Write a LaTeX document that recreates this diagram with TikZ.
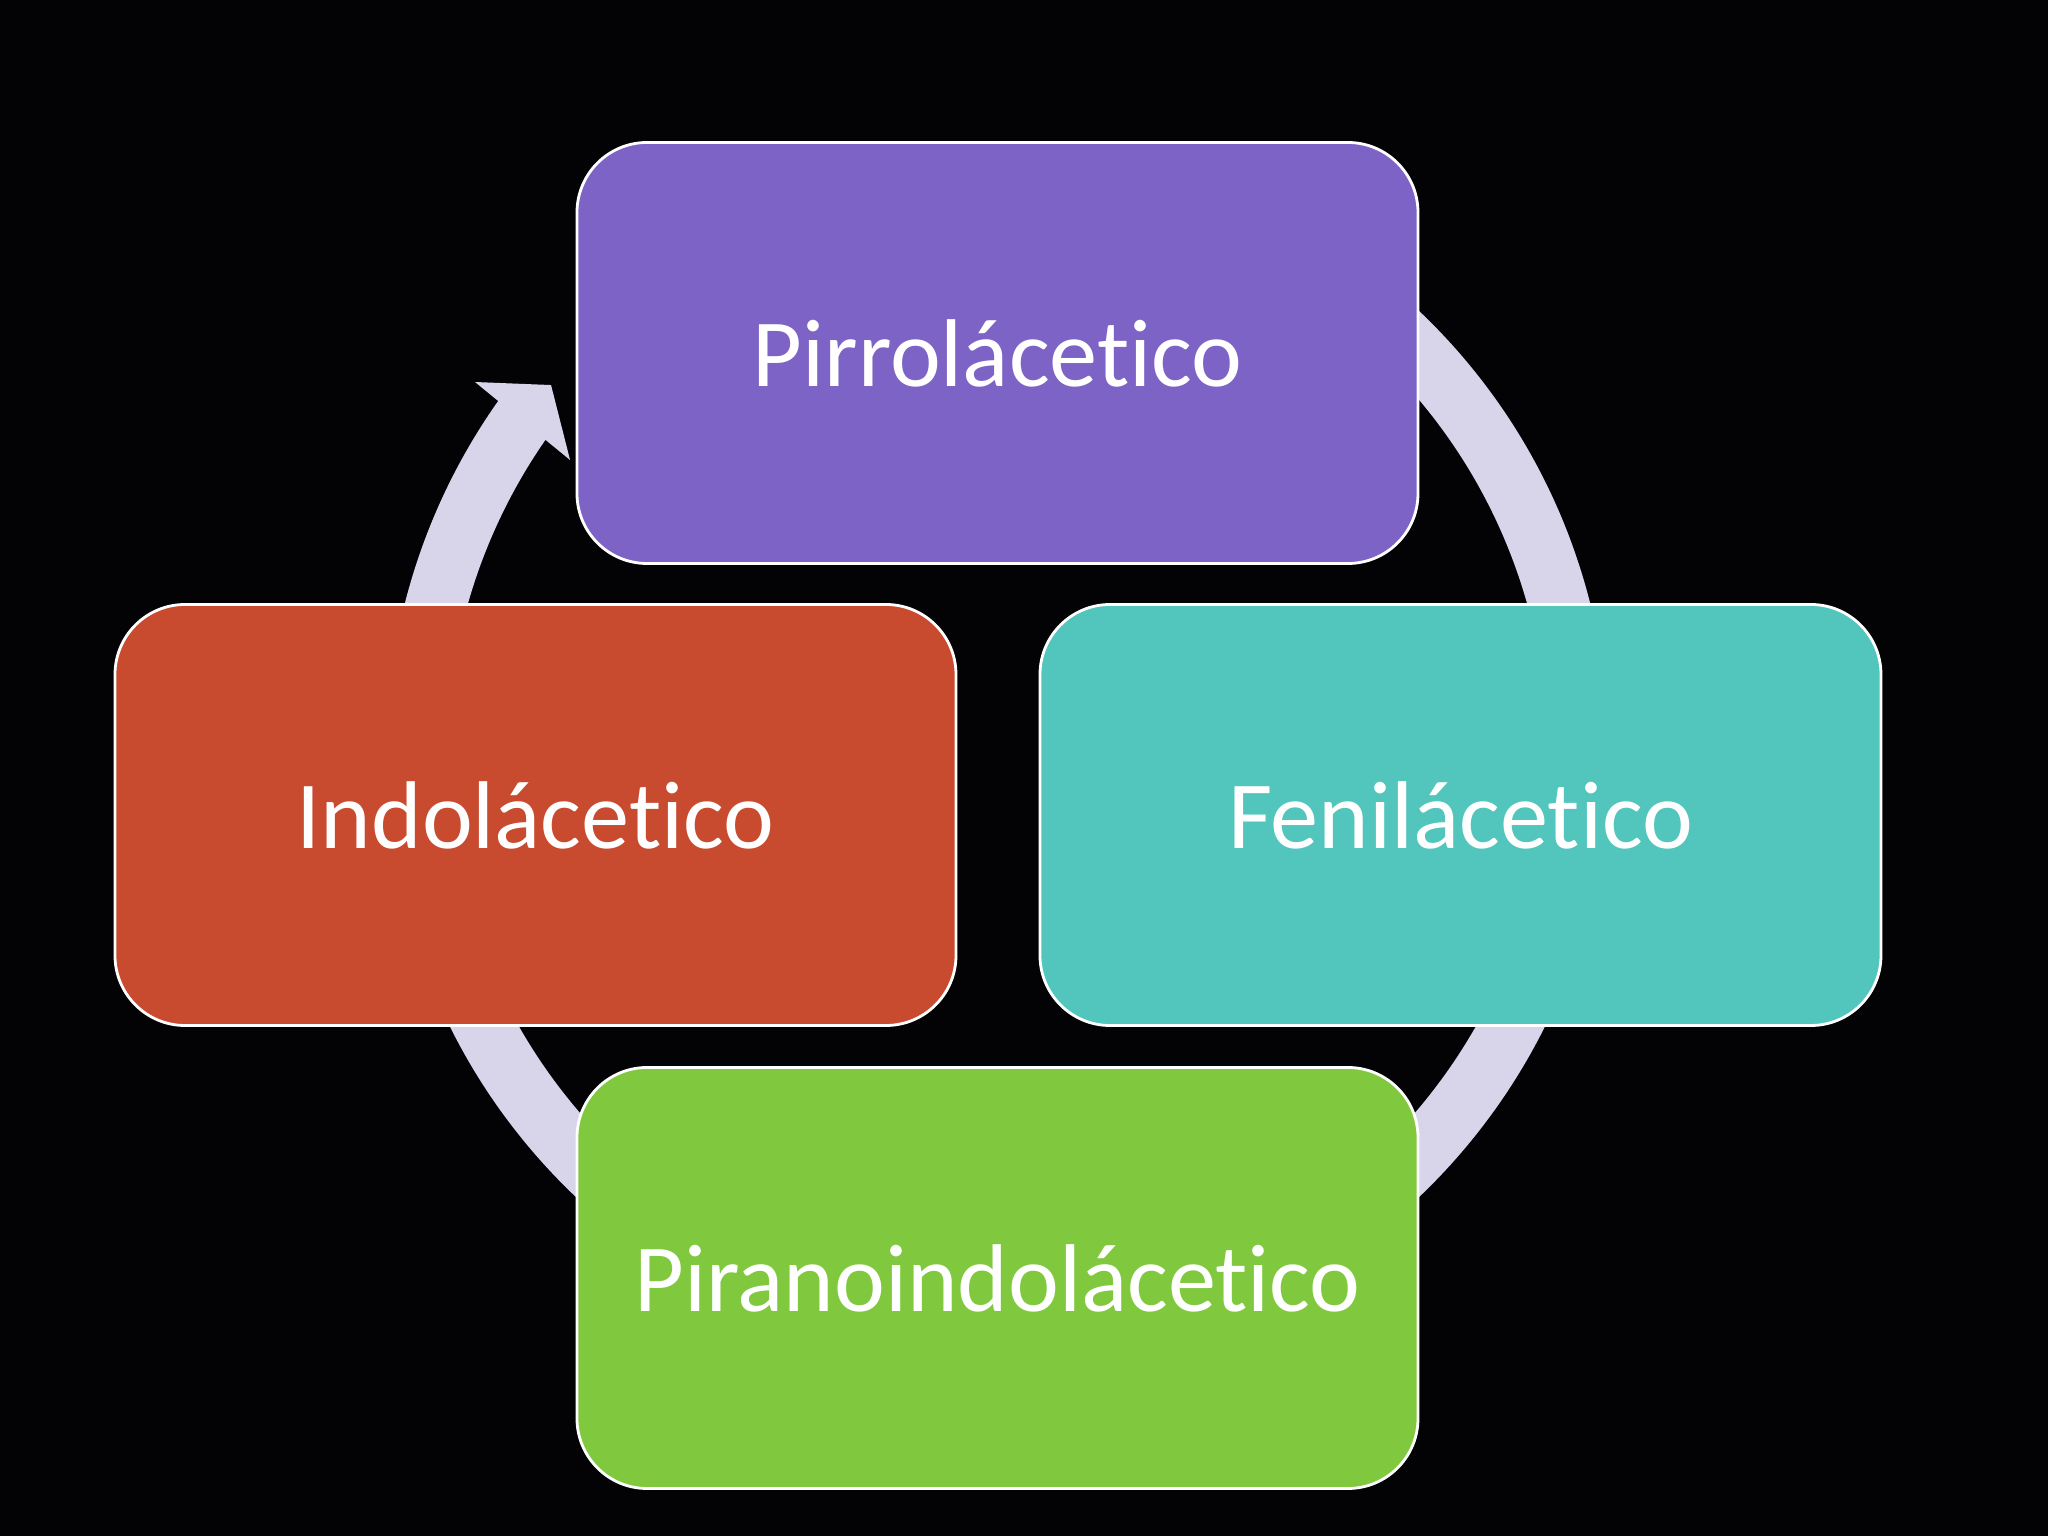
\documentclass[tikz,border=0pt]{standalone}
\usepackage{fontspec}
\setmainfont{Carlito}[Ligatures={NoCommon}]
\usetikzlibrary{positioning}
\definecolor{pirrolpurple}{RGB}{125,99,198}
\definecolor{indolred}{RGB}{200,74,47}
\definecolor{fenilteal}{RGB}{82,197,189}
\definecolor{piranogreen}{RGB}{128,201,63}
\definecolor{cyclelilac}{RGB}{216,212,234}
\definecolor{bgblack}{RGB}{3,3,6}

\begin{document}
\begin{tikzpicture}[
    box/.style={draw=white, line width=0.8pt, rounded corners=0.7cm,
                minimum width=8.41cm, minimum height=4.21cm, inner sep=0pt, outer sep=0pt,
                text=white, font=\fontsize{27.4}{32}\selectfont},
    cyc/.style={draw=cyclelilac, line width=0.61cm},
]
\fill[bgblack] (-9.975,7.54) rectangle (10.505,-7.82);
\coordinate (c) at (0,0);

% cycle arrow behind the boxes
\draw[cyc] (c) ++(460:5.81) arc[start angle=460, end angle=144.5, radius=5.81cm];
\fill[cyclelilac] (144.55:6.414) -- (140.43:5.792) -- (145.48:5.188) -- cycle;

\node[box, fill=pirrolpurple] (pirrol) at (0,4.01) {Pirrolácetico};
\node[box, fill=indolred, below=0.41cm of pirrol, xshift=-4.62cm] (indol) {Indolácetico};
\node[box, fill=fenilteal, below=0.41cm of pirrol, xshift=4.63cm] (fenil) {Fenilácetico};
\node[box, fill=piranogreen, below=5.04cm of pirrol] (pirano) {Piranoindolácetico};
\end{tikzpicture}
\end{document}
